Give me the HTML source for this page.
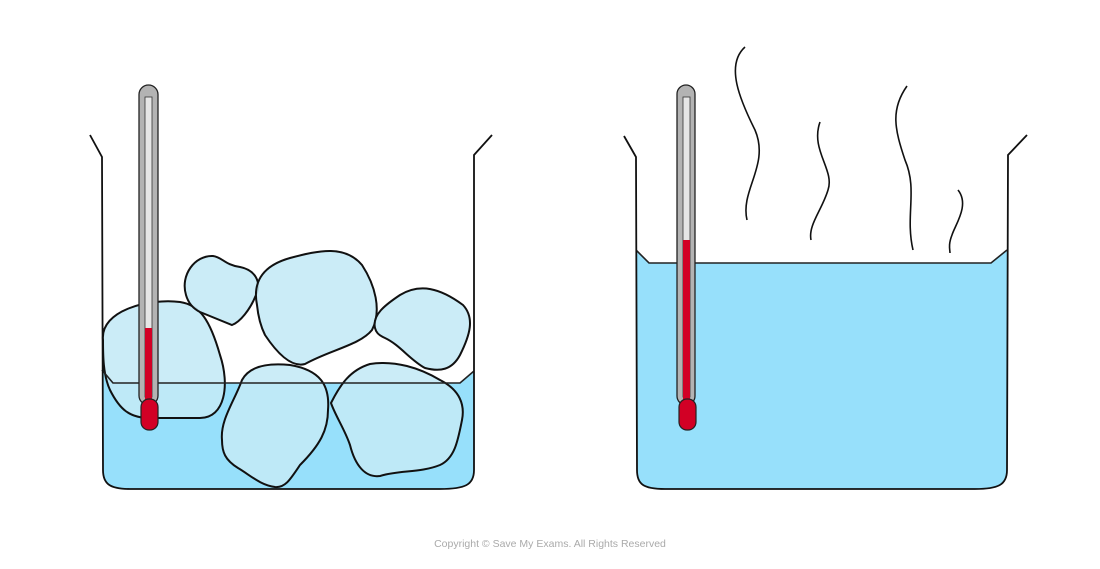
<!DOCTYPE html>
<html><head><meta charset="utf-8"><style>
html,body{margin:0;padding:0;background:#fff;width:1100px;height:569px;overflow:hidden}
svg{display:block}
</style></head><body>
<svg width="1100" height="569" viewBox="0 0 1100 569" xmlns="http://www.w3.org/2000/svg">
<path d="M102,368 L113,383 L460,383 L474,371 L474,470 C474,485 465,489 440,489 L130,489 C110,489 103,484 103,470 Z" fill="#97e0fb"/>
<g fill="#c4e9f6" fill-opacity="0.88" stroke="#111" stroke-width="2">
<path d="M103,340 C100,310 150,298 180,302 C200,305 210,320 220,355 C230,385 225,418 200,418 L150,418 C130,418 120,410 110,390 C103,375 103,355 103,340Z"/>
<path d="M186,295 C180,275 195,255 213,256 C222,257 225,265 240,267 C255,270 262,282 256,295 C250,310 240,322 232,325 L200,312 C192,308 188,302 186,295Z"/>
<path d="M257,305 C252,280 265,265 290,258 C320,250 345,245 362,265 C375,285 382,310 372,330 C360,345 330,350 305,364 C290,368 275,350 265,335 C260,325 258,315 257,305Z"/>
<path d="M375,328 C372,315 385,305 400,295 C420,283 440,288 463,305 C475,318 470,335 460,355 C452,370 440,372 425,368 C410,360 400,345 385,338 C378,335 376,332 375,328Z"/>
<path d="M222,440 C220,420 235,400 242,380 C250,365 270,363 290,365 C320,370 330,385 328,410 C328,430 320,445 300,465 C290,480 285,488 275,487 C260,485 250,475 238,468 C225,460 222,452 222,440Z"/>
<path d="M331,403 C340,385 350,370 370,364 C395,360 420,368 440,380 C460,390 465,405 462,420 C458,440 455,458 440,465 C420,473 400,470 380,476 C365,478 355,465 350,445 C345,430 335,415 331,403Z"/>
</g>
<path d="M102,370 L113,383 L460,383 L474,371" stroke="#222" stroke-width="1.6" fill="none"/>
<path d="M90,135 L102,157 L103,470 C103,484 110,489 130,489 L440,489 C465,489 474,485 474,470 L474,155 L492,135" stroke="#111" stroke-width="1.8" fill="none"/>
<rect x="139" y="85" width="19" height="320" rx="9.5" fill="#b3b3b3" stroke="#222" stroke-width="1.3"/>
<rect x="145" y="97" width="7" height="300" fill="#e6e6e6" stroke="#333" stroke-width="0.8"/>
<rect x="145" y="328" width="7" height="72" fill="#d20025"/>
<rect x="141" y="399" width="17" height="31" rx="8" fill="#d20025" stroke="#222" stroke-width="1.2"/>

<path d="M636,250 L649,263 L991,263 L1007,250 L1007,470 C1007,485 998,489 975,489 L665,489 C643,489 637,484 637,470 Z" fill="#97e0fb"/>
<path d="M636,250 L649,263 L991,263 L1007,250" stroke="#222" stroke-width="1.6" fill="none"/>
<path d="M624,136 L636,157 L637,470 C637,484 643,489 665,489 L975,489 C998,489 1007,485 1007,470 L1008,155 L1027,135" stroke="#111" stroke-width="1.8" fill="none"/>
<rect x="677" y="85" width="18" height="320" rx="9" fill="#b3b3b3" stroke="#222" stroke-width="1.3"/>
<rect x="683" y="97" width="7" height="300" fill="#e6e6e6" stroke="#333" stroke-width="0.8"/>
<rect x="683" y="240" width="7" height="160" fill="#d20025"/>
<rect x="679" y="399" width="17" height="31" rx="8" fill="#d20025" stroke="#222" stroke-width="1.2"/>
<g stroke="#111" stroke-width="1.6" fill="none">
<path d="M745,47 C725,65 740,100 755,130 C770,165 740,190 747,220"/>
<path d="M820,122 C810,150 835,170 828,190 C822,210 808,225 811,240"/>
<path d="M907,86 C890,110 895,130 905,160 C918,190 905,215 913,250"/>
<path d="M958,190 C970,205 955,225 952,235 C948,245 950,250 950,253"/>
</g>
<text x="550" y="547" text-anchor="middle" font-family="Liberation Sans, sans-serif" font-size="10.5" fill="#aaa">Copyright © Save My Exams. All Rights Reserved</text>
</svg>
</body></html>
